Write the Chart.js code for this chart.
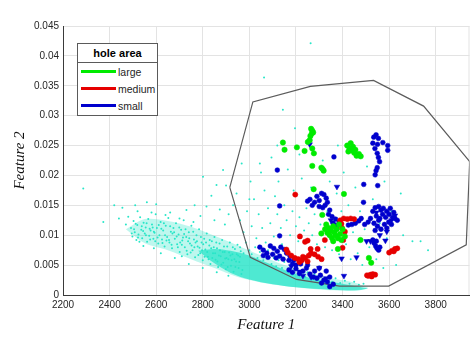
<!DOCTYPE html>
<html lang="en">
<head>
  <meta charset="UTF-8" />
  <title>Feature 1 vs Feature 2</title>
  <script src="https://cdn.jsdelivr.net/npm/chart.js"></script>
  <style>
    body { margin: 0; background: #fff; }
    #wrap { position: relative; width: 474px; height: 340px; }
    #legend {
      position: absolute; left: 77px; top: 43px; width: 79px; height: 71px;
      border: 1px solid #5a5a5a; background: #fff;
      font-family: Arial, "Liberation Sans", sans-serif; font-size: 10.5px; color: #262626;
    }
    #legend .title {
      height: 18px; line-height: 19px; text-align: center; font-weight: bold;
      font-size: 11px; color: #000; border-bottom: 1px solid #5a5a5a;
    }
    #legend .row { height: 17px; display: flex; align-items: center; }
    #legend .swatch { width: 35px; height: 3px; margin: 0 2px 0 3px; }
  </style>
</head>
<body>
<div id="wrap">
  <canvas id="chart" width="474" height="340"></canvas>
  <div id="legend"><div class="title">hole area</div></div>
</div>

<script>
  // axis ticks
  const xTicks = [2200, 2400, 2600, 2800, 3000, 3200, 3400, 3600, 3800];
  const yTicks = [0, 0.005, 0.01, 0.015, 0.02, 0.025, 0.03, 0.035, 0.04, 0.045];

  const legendTitle = 'hole area';
  const seriesNames = ['large', 'medium', 'small'];

  // boundary polygon
  const hull = [
    [2916, 0.0180], [3015, 0.0323], [3262, 0.0349], [3533, 0.0359], [3748, 0.0316],
    [3946, 0.0223], [3931, 0.0084], [3598, 0.0015], [3387, 0.0015], [3202, 0.0026],
    [3004, 0.0063], [2916, 0.0180]
  ];

  // outline of the dense part of the unlabelled cloud
  const cloudTop = [[2470, 0.0110], [2550, 0.0127], [2650, 0.0124], [2750, 0.0114], [2850, 0.0099], [2950, 0.0083], [3050, 0.0066], [3150, 0.0050], [3250, 0.0038], [3350, 0.0028], [3450, 0.0021], [3510, 0.0012]];
  const cloudBottom = [[2470, 0.0110], [2550, 0.0087], [2650, 0.0075], [2750, 0.0060], [2850, 0.0045], [2950, 0.0030], [3050, 0.0021], [3150, 0.0015], [3250, 0.0011], [3350, 0.0008], [3450, 0.0008], [3510, 0.0012]];
  const coreTop = [[2780, 0.0074], [2850, 0.0077], [2920, 0.0074], [3000, 0.0066], [3100, 0.0050], [3200, 0.0035], [3300, 0.0025], [3400, 0.0019], [3470, 0.0014], [3510, 0.0011]];
  const coreBottom = [[2780, 0.0074], [2850, 0.0053], [2920, 0.0037], [3000, 0.0026], [3100, 0.0018], [3200, 0.0013], [3300, 0.0010], [3400, 0.0008], [3470, 0.0008], [3510, 0.0011]];

  // unlabelled samples
  const cloudPoints = [
    [2287, 0.0178], [2373, 0.0122], [2420, 0.0150], [2455, 0.0146], [2480, 0.0131], [2510, 0.0150],
    [2560, 0.0155], [2600, 0.0152], [2470, 0.0118], [2440, 0.0128], [3263, 0.0421], [3063, 0.0364],
    [3144, 0.0310], [3196, 0.0279], [2967, 0.0220], [3045, 0.0220],
    [2492, 0.0112], [2498, 0.0098], [2503, 0.0124], [2508, 0.0105], [2515, 0.0092], [2519, 0.0117],
    [2524, 0.0101], [2531, 0.0130], [2536, 0.0109], [2540, 0.0095], [2546, 0.0121], [2551, 0.0103],
    [2555, 0.0113], [2561, 0.0089], [2566, 0.0127], [2570, 0.0099], [2576, 0.0108], [2582, 0.0118],
    [2588, 0.0094], [2593, 0.0104], [2598, 0.0135], [2603, 0.0112], [2609, 0.0086], [2614, 0.0100],
    [2619, 0.0122], [2625, 0.0093], [2630, 0.0108], [2636, 0.0081], [2641, 0.0116], [2647, 0.0097],
    [2652, 0.0129], [2657, 0.0088], [2663, 0.0106], [2668, 0.0078], [2674, 0.0112], [2680, 0.0094],
    [2685, 0.0120], [2690, 0.0085], [2696, 0.0101], [2701, 0.0072], [2707, 0.0109], [2712, 0.0091],
    [2718, 0.0125], [2723, 0.0080], [2729, 0.0097], [2734, 0.0068], [2740, 0.0105], [2745, 0.0086],
    [2751, 0.0116], [2756, 0.0075], [2762, 0.0093], [2767, 0.0063], [2773, 0.0100], [2778, 0.0081],
    [2784, 0.0110], [2789, 0.0070], [2795, 0.0088], [2800, 0.0058], [2806, 0.0094], [2811, 0.0076],
    [2817, 0.0103], [2822, 0.0064], [2828, 0.0083], [2833, 0.0052], [2839, 0.0090], [2844, 0.0070],
    [2850, 0.0097], [2855, 0.0059], [2861, 0.0078], [2866, 0.0047], [2872, 0.0086], [2877, 0.0065],
    [2883, 0.0092], [2888, 0.0054], [2894, 0.0072], [2899, 0.0043], [2905, 0.0081], [2910, 0.0060],
    [2916, 0.0088], [2921, 0.0049], [2927, 0.0068], [2932, 0.0039], [2938, 0.0077], [2943, 0.0056],
    [2949, 0.0084], [2954, 0.0045], [2960, 0.0064], [2966, 0.0035],
    [2505, 0.0110], [2522, 0.0096], [2538, 0.0115], [2556, 0.0100], [2572, 0.0111], [2590, 0.0106],
    [2606, 0.0096], [2622, 0.0111], [2638, 0.0100], [2655, 0.0092], [2670, 0.0103], [2688, 0.0098],
    [2703, 0.0088], [2720, 0.0102], [2737, 0.0090], [2752, 0.0083], [2769, 0.0088], [2786, 0.0079],
    [2802, 0.0085], [2819, 0.0072], [2836, 0.0078], [2853, 0.0070], [2869, 0.0066], [2886, 0.0072],
    [2902, 0.0062], [2919, 0.0066], [2936, 0.0060], [2952, 0.0066],
    [2495, 0.0103], [2512, 0.0119], [2528, 0.0089], [2544, 0.0107], [2559, 0.0120], [2574, 0.0093],
    [2585, 0.0113], [2596, 0.0090], [2611, 0.0117], [2627, 0.0087], [2633, 0.0120], [2644, 0.0091],
    [2660, 0.0115], [2666, 0.0084], [2677, 0.0105], [2693, 0.0080], [2699, 0.0113], [2710, 0.0084],
    [2715, 0.0096], [2726, 0.0110], [2731, 0.0074], [2742, 0.0095], [2748, 0.0071], [2759, 0.0106],
    [2764, 0.0080], [2775, 0.0090], [2781, 0.0067], [2792, 0.0097], [2797, 0.0075], [2808, 0.0064],
    [2814, 0.0088], [2825, 0.0060], [2830, 0.0092], [2841, 0.0062], [2847, 0.0080], [2858, 0.0088],
    [2863, 0.0056], [2874, 0.0075], [2880, 0.0051], [2891, 0.0081], [2896, 0.0061], [2907, 0.0047],
    [2913, 0.0071], [2924, 0.0058], [2929, 0.0080], [2940, 0.0047], [2946, 0.0068], [2957, 0.0055],
    [2963, 0.0073], [2970, 0.0042],
    [2520, 0.0140], [2580, 0.0138], [2640, 0.0134], [2700, 0.0128], [2760, 0.0122], [2620, 0.0070],
    [2680, 0.0062], [2740, 0.0052], [2800, 0.0045], [2860, 0.0038], [2910, 0.0032], [2590, 0.0078],
    [2545, 0.0082], [2660, 0.0138], [2710, 0.0065],
    [2801, 0.0198], [2887, 0.0209], [2859, 0.0184], [2900, 0.0183], [2837, 0.0166], [2816, 0.0148],
    [2873, 0.0143], [2911, 0.0135], [2765, 0.0150], [2730, 0.0142], [2790, 0.0132], [2850, 0.0125],
    [2895, 0.0118], [2930, 0.0150], [2945, 0.0170], [2960, 0.0125], [2975, 0.0105], [2990, 0.0140],
    [3005, 0.0190], [3010, 0.0115], [3020, 0.0160], [3030, 0.0095], [3040, 0.0135], [3050, 0.0205],
    [3055, 0.0112], [3065, 0.0175], [3070, 0.0088], [3080, 0.0145], [3090, 0.0120], [3095, 0.0230],
    [3105, 0.0098], [3110, 0.0165], [3120, 0.0135], [3125, 0.0190], [3135, 0.0112], [3140, 0.0085],
    [3150, 0.0150], [3160, 0.0125], [3165, 0.0210], [3175, 0.0100], [3185, 0.0140], [3190, 0.0175],
    [3200, 0.0115], [3210, 0.0090], [3215, 0.0130], [3225, 0.0195], [3235, 0.0108], [3245, 0.0145],
    [3255, 0.0120], [3265, 0.0180], [3270, 0.0100], [3280, 0.0135], [3290, 0.0085], [3295, 0.0150],
    [3305, 0.0118], [3315, 0.0225], [3325, 0.0080], [3335, 0.0140], [3345, 0.0190], [3355, 0.0075],
    [3365, 0.0125], [3375, 0.0170], [3385, 0.0068], [3395, 0.0140], [3405, 0.0205], [3415, 0.0085],
    [3425, 0.0150], [3435, 0.0060], [3445, 0.0105], [3455, 0.0180], [3465, 0.0070], [3475, 0.0140],
    [3485, 0.0050], [3495, 0.0110], [3505, 0.0215], [3515, 0.0080], [3530, 0.0160], [3545, 0.0060],
    [3560, 0.0120], [3575, 0.0045], [3590, 0.0095], [3610, 0.0140], [3630, 0.0050], [3660, 0.0100],
    [3700, 0.0090], [3735, 0.0090], [3650, 0.0170], [3580, 0.0190], [3470, 0.0230], [3380, 0.0250],
    [3215, 0.0235], [3120, 0.0250], [3000, 0.0160], [3767, 0.0075],
    [2960, 0.0080], [2975, 0.0070], [2985, 0.0088], [3000, 0.0075], [3010, 0.0068], [3025, 0.0080],
    [3035, 0.0062], [3045, 0.0072], [3060, 0.0058], [3070, 0.0066], [3080, 0.0075], [3095, 0.0052],
    [3105, 0.0062], [3115, 0.0048], [3125, 0.0058], [3140, 0.0045], [3150, 0.0055], [3165, 0.0040],
    [3175, 0.0050], [3190, 0.0036], [3200, 0.0046], [3215, 0.0034], [3225, 0.0042], [3240, 0.0030],
    [3250, 0.0038], [3265, 0.0028], [3280, 0.0035], [3295, 0.0026], [3310, 0.0032], [3325, 0.0024],
    [3340, 0.0030], [3355, 0.0022], [3370, 0.0028], [3390, 0.0020], [3410, 0.0024], [3430, 0.0019],
    [3450, 0.0022], [3470, 0.0017], [3490, 0.0019]
  ];

  // labelled samples
  const largePoints = [
    [3265, 0.0278], [3270, 0.0275], [3268, 0.0270], [3262, 0.0266], [3274, 0.0272], [3259, 0.0259],
    [3251, 0.0256], [3144, 0.0255], [3151, 0.0243], [3204, 0.0247], [3237, 0.0241], [3270, 0.0245],
    [3277, 0.0237], [3270, 0.0216], [3309, 0.0213], [3314, 0.0211], [3319, 0.0208], [3276, 0.0177],
    [3406, 0.0169],
    [3420, 0.0250], [3430, 0.0245], [3440, 0.0242], [3435, 0.0254], [3450, 0.0238], [3460, 0.0233],
    [3470, 0.0236], [3445, 0.0248], [3425, 0.0240], [3455, 0.0243], [3478, 0.0232],
    [3313, 0.0134], [3330, 0.0118], [3340, 0.0112], [3350, 0.0108], [3360, 0.0115], [3365, 0.0105],
    [3370, 0.0100], [3345, 0.0100], [3355, 0.0095], [3375, 0.0110], [3380, 0.0095], [3390, 0.0102],
    [3395, 0.0092], [3335, 0.0104], [3385, 0.0118], [3400, 0.0110], [3410, 0.0098], [3360, 0.0090],
    [3325, 0.0110], [3309, 0.0103], [3380, 0.0077], [3477, 0.0092], [3513, 0.0062], [3523, 0.0054]
  ];
  const mediumPoints = [
    [3197, 0.0168], [3217, 0.0098], [3239, 0.0089], [3250, 0.0091], [3263, 0.0077], [3293, 0.0077],
    [3324, 0.0092], [3403, 0.0092], [3400, 0.0079], [3390, 0.0125], [3405, 0.0128], [3420, 0.0127],
    [3435, 0.0128], [3450, 0.0127], [3395, 0.0119], [3398, 0.0112], [3410, 0.0106],
    [3159, 0.0076], [3165, 0.0071], [3180, 0.0066], [3195, 0.0062], [3210, 0.0060], [3225, 0.0058],
    [3240, 0.0062], [3255, 0.0066], [3265, 0.0070], [3280, 0.0068], [3295, 0.0064], [3310, 0.0060],
    [3230, 0.0064], [3250, 0.0056], [3215, 0.0055],
    [3600, 0.0071], [3612, 0.0074], [3625, 0.0077], [3635, 0.0078], [3620, 0.0073],
    [3510, 0.0032], [3520, 0.0034], [3530, 0.0035], [3540, 0.0034], [3525, 0.0031], [3505, 0.0033]
  ];
  const smallPoints = [
    [3544, 0.0268], [3534, 0.0264], [3554, 0.0262], [3530, 0.0254], [3550, 0.0252], [3573, 0.0255],
    [3594, 0.0250], [3594, 0.0242], [3539, 0.0245], [3549, 0.0237], [3554, 0.0230], [3559, 0.0223],
    [3549, 0.0213], [3544, 0.0208], [3540, 0.0201], [3551, 0.0183], [3491, 0.0185], [3490, 0.0155],
    [3363, 0.0231], [3120, 0.0209], [3130, 0.0149], [3130, 0.0099],
    [3250, 0.0157], [3260, 0.0160], [3280, 0.0155], [3290, 0.0165], [3300, 0.0158], [3310, 0.0170],
    [3320, 0.0168], [3330, 0.0162], [3335, 0.0155], [3325, 0.0150], [3300, 0.0148], [3270, 0.0150],
    [3315, 0.0146], [3345, 0.0142],
    [3340, 0.0135], [3355, 0.0131], [3370, 0.0127], [3385, 0.0122], [3440, 0.0118], [3455, 0.0120],
    [3470, 0.0124], [3480, 0.0128], [3360, 0.0120], [3375, 0.0115], [3425, 0.0117],
    [3530, 0.0140], [3540, 0.0146], [3555, 0.0148], [3565, 0.0142], [3575, 0.0145], [3590, 0.0140],
    [3600, 0.0135], [3615, 0.0130], [3625, 0.0128], [3635, 0.0125], [3545, 0.0132], [3560, 0.0128],
    [3572, 0.0135], [3585, 0.0130], [3598, 0.0122], [3610, 0.0118], [3535, 0.0120], [3550, 0.0115],
    [3565, 0.0110], [3580, 0.0118], [3590, 0.0112], [3540, 0.0108], [3555, 0.0125], [3620, 0.0138],
    [3605, 0.0145], [3520, 0.0128], [3510, 0.0122], [3495, 0.0118],
    [3530, 0.0092], [3535, 0.0087], [3542, 0.0082], [3548, 0.0078], [3555, 0.0075], [3560, 0.0080],
    [3545, 0.0090],
    [3045, 0.0080], [3060, 0.0075], [3075, 0.0070], [3090, 0.0082], [3105, 0.0078], [3120, 0.0073],
    [3135, 0.0080], [3150, 0.0076], [3100, 0.0068], [3130, 0.0065], [3160, 0.0070], [3145, 0.0060],
    [3170, 0.0058], [3115, 0.0062], [3080, 0.0063], [3175, 0.0065], [3190, 0.0058], [3060, 0.0066],
    [3185, 0.0052], [3200, 0.0050],
    [3170, 0.0042], [3185, 0.0038], [3200, 0.0044], [3215, 0.0036], [3230, 0.0040], [3245, 0.0045],
    [3260, 0.0035], [3275, 0.0030], [3290, 0.0028], [3305, 0.0033], [3320, 0.0025], [3335, 0.0022],
    [3345, 0.0030], [3310, 0.0020], [3280, 0.0040], [3250, 0.0050], [3220, 0.0052], [3300, 0.0045],
    [3330, 0.0040], [3345, 0.0014], [3360, 0.0018]
  ];
  const smallTriangles = [
    [3259, 0.0252], [3376, 0.0181], [3503, 0.0090], [3584, 0.0091], [3520, 0.0090], [3460, 0.0063],
    [3396, 0.0061], [3406, 0.0032], [3350, 0.0125], [3365, 0.0117], [3216, 0.0039], [3230, 0.0032],
    [3265, 0.0030], [3180, 0.0048], [3330, 0.0028], [3300, 0.0045], [3560, 0.0100], [3590, 0.0106],
    [3610, 0.0125], [3545, 0.0138], [3625, 0.0133]
  ];

  const GREEN = 'rgb(0,235,0)';
  const RED = 'rgb(230,0,0)';
  const BLUE = 'rgb(0,0,205)';
  const CYAN = 'rgb(40,230,200)';

  const toXY = arr => arr.map(p => ({ x: p[0], y: p[1] }));

  function marker(data, color, style, r, order) {
    return {
      data: toXY(data), pointStyle: style, pointRadius: r, pointRotation: style === 'triangle' ? 180 : 0,
      backgroundColor: color, borderColor: color, borderWidth: 0.5, showLine: false, order: order
    };
  }
  function band(data, fillColor, fillTo, order) {
    return {
      data: toXY(data), showLine: true, borderWidth: 0, pointRadius: 0, tension: 0.3,
      borderColor: 'rgba(0,0,0,0)', backgroundColor: fillColor, fill: fillTo, order: order
    };
  }

  const rightEdge = {
    id: 'rightEdge',
    beforeDatasetsDraw(chart) {
      const a = chart.chartArea, ctx = chart.ctx;
      ctx.save();
      ctx.strokeStyle = '#e3e3e3';
      ctx.lineWidth = 1;
      ctx.beginPath();
      ctx.moveTo(a.right - 0.5, a.top);
      ctx.lineTo(a.right - 0.5, a.bottom);
      ctx.stroke();
      ctx.restore();
    }
  };

  new Chart(document.getElementById('chart'), {
    type: 'scatter',
    data: {
      datasets: [
        band(cloudTop, 'rgba(40,230,200,0.3)', '+1', 20),
        band(cloudBottom, 'rgba(0,0,0,0)', false, 21),
        band(coreTop, 'rgba(40,228,200,0.75)', '+1', 18),
        band(coreBottom, 'rgba(0,0,0,0)', false, 19),
        { data: toXY(cloudPoints), pointRadius: 1, borderWidth: 0, backgroundColor: CYAN, order: 15 },
        { data: toXY(hull), showLine: true, borderColor: '#5c5c5c', borderWidth: 1.2, pointRadius: 0, order: 10 },
        marker(smallPoints, BLUE, 'circle', 2.4, 5),
        marker(smallTriangles, BLUE, 'triangle', 3.2, 4),
        marker(mediumPoints, RED, 'circle', 2.6, 3),
        marker(largePoints, GREEN, 'circle', 2.7, 2)
      ]
    },
    options: {
      responsive: false,
      animation: false,
      devicePixelRatio: 1,
      layout: { padding: { top: 26, right: 4, left: 0, bottom: 0 } },
      plugins: { legend: { display: false }, tooltip: { enabled: false } },
      scales: {
        x: {
          type: 'linear', min: 2200, max: 3945,
          afterFit: s => { s.height = 45; },
          afterBuildTicks: s => { s.ticks = xTicks.map(v => ({ value: v })); },
          grid: { color: '#e3e3e3', drawTicks: false },
          border: { color: '#3a3a3a', width: 1 },
          ticks: {
            padding: 4, color: '#262626', font: { family: 'Arial', size: 10 }, maxRotation: 0,
            callback: v => String(v)
          },
          title: {
            display: true, text: 'Feature 1', color: '#111',
            font: { family: '"Liberation Serif", serif', style: 'italic', size: 15 },
            padding: { top: 0, bottom: 6 }
          }
        },
        y: {
          type: 'linear', min: 0, max: 0.045,
          afterFit: s => { s.width = 63; },
          afterBuildTicks: s => { s.ticks = yTicks.map(v => ({ value: v })); },
          grid: { color: '#e3e3e3', drawTicks: false },
          border: { color: '#3a3a3a', width: 1 },
          ticks: {
            padding: 4, color: '#262626', font: { family: 'Arial', size: 10 },
            callback: v => String(+v.toFixed(3))
          },
          title: {
            display: true, text: 'Feature 2', color: '#111',
            font: { family: '"Liberation Serif", serif', style: 'italic', size: 15 },
            padding: { top: 11, bottom: 0 }
          }
        }
      }
    },
    plugins: [rightEdge]
  });

  // legend box inside the axes
  const legendColors = [GREEN, RED, BLUE];
  const legendEl = document.getElementById('legend');
  legendEl.querySelector('.title').textContent = legendTitle;
  seriesNames.forEach((name, i) => {
    const row = document.createElement('div');
    row.className = 'row';
    row.innerHTML = '<span class="swatch" style="background:' + legendColors[i] + '"></span><span>' + name + '</span>';
    legendEl.appendChild(row);
  });
</script>
</body>
</html>
